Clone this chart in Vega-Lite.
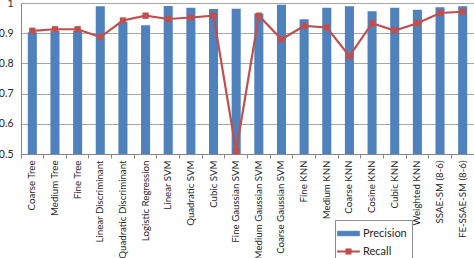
{
  "$schema": "https://vega.github.io/schema/vega-lite/v6.json",
  "width": 453,
  "height": 151,
  "autosize": {"type": "none"},
  "padding": {"left": 21, "top": 3, "right": 0, "bottom": 104},
  "background": "white",
  "config": {
    "view": {"stroke": null},
    "font": "Lato",
    "axis": {"labelFont": "Lato", "labelColor": "#262626", "labelFontSize": 9.7},
    "axisY": {"labelOverlap": false, "labelFontSize": 10.5}
  },
  "data": {
    "values": [
      {"model": "Coarse Tree", "Precision": 0.903, "Recall": 0.908},
      {"model": "Medium Tree", "Precision": 0.908, "Recall": 0.913},
      {"model": "Fine Tree", "Precision": 0.908, "Recall": 0.913},
      {"model": "Linear Discriminant", "Precision": 0.989, "Recall": 0.887},
      {"model": "Quadratic Discriminant", "Precision": 0.938, "Recall": 0.942},
      {"model": "Logistic Regression", "Precision": 0.926, "Recall": 0.958},
      {"model": "Linear SVM", "Precision": 0.99, "Recall": 0.947},
      {"model": "Quadratic SVM", "Precision": 0.984, "Recall": 0.952},
      {"model": "Cubic SVM", "Precision": 0.98, "Recall": 0.958},
      {"model": "Fine Gaussian SVM", "Precision": 0.981, "Recall": 0.509},
      {"model": "Medium Gaussian SVM", "Precision": 0.965, "Recall": 0.958},
      {"model": "Coarse Gaussian SVM", "Precision": 0.994, "Recall": 0.88},
      {"model": "Fine KNN", "Precision": 0.946, "Recall": 0.924},
      {"model": "Medium KNN", "Precision": 0.984, "Recall": 0.919},
      {"model": "Coarse KNN", "Precision": 0.989, "Recall": 0.824},
      {"model": "Cosine KNN", "Precision": 0.973, "Recall": 0.933},
      {"model": "Cubic KNN", "Precision": 0.984, "Recall": 0.909},
      {"model": "Weighted KNN", "Precision": 0.978, "Recall": 0.933},
      {"model": "SSAE-SM (8-6)", "Precision": 0.986, "Recall": 0.967},
      {"model": "FE-SSAE-SM (8-6)", "Precision": 0.989, "Recall": 0.971}
    ]
  },
  "encoding": {
    "x": {
      "field": "model",
      "type": "nominal",
      "sort": null,
      "title": null,
      "scale": {"paddingInner": 0.6, "paddingOuter": 0.3},
      "axis": {
        "labelAngle": -90,
        "labelPadding": 2,
        "ticks": true,
        "tickSize": 4,
        "tickColor": "#868686",
        "bandPosition": -0.75,
        "labelOffset": 0,
        "domainColor": "#868686",
        "grid": false,
        "labelOverlap": false
      }
    }
  },
  "layer": [
    {
      "mark": {"type": "bar"},
      "encoding": {
        "y": {
          "field": "Precision",
          "type": "quantitative",
          "title": null,
          "scale": {"domain": [0.5, 1], "zero": false, "nice": false},
          "axis": {
            "values": [0.5, 0.6, 0.7, 0.8, 0.9, 1],
            "format": ".1~f",
            "gridColor": "#A6A6A6",
            "domainColor": "#868686",
            "ticks": false,
            "labelPadding": 8,
            "labelOverlap": false
          }
        },
        "y2": {"datum": 0.5},
        "color": {
          "datum": "Precision",
          "scale": {"domain": ["Precision", "Recall"], "range": ["#4F81BD", "#C0504D"]},
          "legend": {
            "title": null,
            "orient": "none",
            "legendX": 314,
            "legendY": 217,
            "strokeColor": "#8C8C8C",
            "fillColor": "white",
            "padding": 5,
            "rowPadding": 4,
            "labelFontSize": 11,
            "labelColor": "#262626",
            "labelOffset": 6,
            "symbolSize": 256,
            "encode": {
              "symbols": {
                "update": {
                  "shape": {"signal": "datum.value === 'Precision' ? 'M-1.4,-0.3H1.4V0.3H-1.4Z' : 'M-1.4,-0.09H1.4V0.09H-1.4Z M-0.35,-0.35H0.35V0.35H-0.35Z'"},
                  "fill": {"signal": "datum.value === 'Precision' ? '#4F81BD' : '#C0504D'"},
                  "stroke": {"signal": "datum.value === 'Precision' ? '#4F81BD' : '#C0504D'"},
                  "strokeWidth": {"value": 0.5},
                  "opacity": {"value": 1}
                }
              }
            }
          }
        }
      }
    },
    {
      "mark": {"type": "line", "strokeWidth": 2.2, "point": {"shape": "square", "size": 40, "filled": true, "opacity": 1}},
      "encoding": {
        "y": {
          "field": "Recall",
          "type": "quantitative",
          "axis": {
            "values": [0.5, 0.6, 0.7, 0.8, 0.9, 1],
            "format": ".1~f",
            "gridColor": "#A6A6A6",
            "domainColor": "#868686",
            "ticks": false,
            "labelPadding": 8,
            "labelOverlap": false
          }
        },
        "color": {"datum": "Recall"}
      }
    }
  ]
}
